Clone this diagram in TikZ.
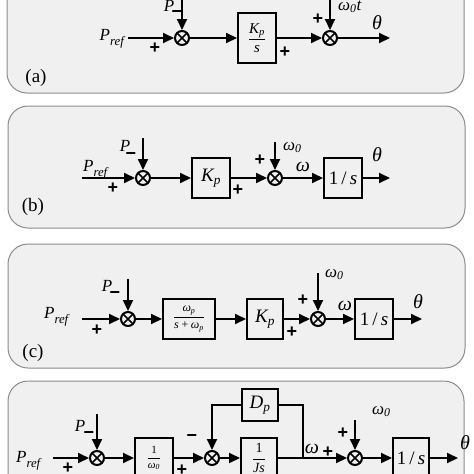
\documentclass[tikz,border=0pt]{standalone}
\usepackage{fontspec}
\setmainfont{Liberation Serif}
\newfontfamily\signfont{Liberation Sans}
\usetikzlibrary{arrows.meta}
\newcommand{\sbs}[1]{\raisebox{-0.3em}{\scalebox{0.75}{#1}}}
\begin{document}
\begin{tikzpicture}[x=1pt,y=-1pt,
  panel/.style={draw=black!45, fill=black!6, line width=1pt, rounded corners=20pt},
  sig/.style={line width=2pt, -{Triangle[length=11pt,width=10pt]}},
  ln/.style={line width=2pt},
  blk/.style={draw, line width=2pt, minimum width=38pt, minimum height=40pt, inner sep=0pt, font=\fontsize{19}{19}\selectfont},
  sumn/.style={circle, draw, line width=2pt, minimum size=14pt, inner sep=0pt,
    path picture={\draw[line width=1.6pt] (path picture bounding box.north west) -- (path picture bounding box.south east) (path picture bounding box.north east) -- (path picture bounding box.south west);}},
  lbl/.style={font=\fontsize{17}{17}\selectfont\itshape, inner sep=0pt},
  big/.style={font=\fontsize{20}{20}\selectfont\itshape, inner sep=0pt},
  sgn/.style={font=\signfont\bfseries\fontsize{18}{18}\selectfont, inner sep=0pt},
  tag/.style={font=\fontsize{19}{19}\selectfont, inner sep=0pt}
]
\useasboundingbox (0,0) rectangle (474,474);
\clip (0,0) rectangle (474,474);
\fill[white] (0,0) rectangle (474,474);

% ---------- panel (a)
\draw[panel] (7,-40) rectangle (464,93);
\coordinate (a0) at (128,38);
\node[sumn] (as1) at (182,38) {};
\coordinate (a1) at (182,-2);
\node[blk, minimum height=50pt, font=\fontsize{15}{15}\selectfont] (ak) at (257,38) {$\displaystyle\frac{\mbox{\itshape K\textsubscript{p}}}{\mbox{\itshape s}}$};
\node[sumn] (as2) at (330,38) {};
\coordinate (a2) at (330,-2);
\coordinate (aout) at (390,38);
\draw[sig] (a0) -- (as1);
\draw[sig] (a1) -- (as1);
\draw[sig] (as1) -- (ak);
\draw[sig] (ak) -- (as2);
\draw[sig] (a2) -- (as2);
\draw[sig] (as2) -- (aout);
\node[lbl, anchor=base east] (apref) at (124,40) {P\sbs{ref}};
\node[lbl, anchor=base] (ap) at (169,11) {P};
\node[sgn] (am) at (177,14) {−};
\node[sgn] (ap1) at (155,48) {+};
\node[sgn] (ap2) at (285,52) {+};
\node[sgn] (ap3) at (318,19) {+};
\node[lbl, anchor=base west] (aw) at (338,10) {ω\textsubscript{0}t};
\node[big] (ath) at (377,23) {θ};
\node[tag] (atag) at (36,78) {(a)};

% ---------- panel (b)
\draw[panel] (8,106) rectangle (465,228);
\coordinate (b0) at (82,178);
\node[sumn] (bs1) at (143,178) {};
\coordinate (b1) at (143,138);
\node[blk] (bk) at (211,178) {\itshape K\textsubscript{p}};
\node[sumn] (bs2) at (275,178) {};
\coordinate (b2) at (275,142);
\node[blk] (bi) at (343,178) {1\,/\,\itshape s};
\coordinate (bout) at (390,178);
\draw[sig] (b0) -- (bs1);
\draw[sig] (b1) -- (bs1);
\draw[sig] (bs1) -- (bk);
\draw[sig] (bk) -- (bs2);
\draw[sig] (b2) -- (bs2);
\draw[sig] (bs2) -- (bi);
\draw[sig] (bi) -- (bout);
\node[lbl, anchor=base west] (bpref) at (83,171) {P\sbs{ref}};
\node[lbl, anchor=base] (bp) at (125,151) {P};
\node[sgn] (bm) at (131,156) {−};
\node[sgn] (bp1) at (113,188) {+};
\node[sgn] (bp2) at (238,190) {+};
\node[sgn] (bp3) at (260,160) {+};
\node[lbl, anchor=base west] (bw0) at (283,150) {ω\textsubscript{0}};
\node[big] (bw) at (303,167) {ω};
\node[big] (bth) at (377,155) {θ};
\node[tag] (btag) at (33,207) {(b)};

% ---------- panel (c)
\draw[panel] (8,244) rectangle (465,368);
\coordinate (c0) at (82,319);
\node[sumn] (cs1) at (128,319) {};
\coordinate (c1) at (128,279);
\node[blk, minimum width=52pt, font=\fontsize{12}{12}\selectfont] (cf) at (189,319) {$\displaystyle\frac{\mbox{\itshape ω\textsubscript{p}}}{\mbox{\itshape s\,+\,ω\textsubscript{p}}}$};
\node[blk, minimum width=36pt] (ck) at (265,319) {\itshape K\textsubscript{p}};
\node[sumn] (cs2) at (318,319) {};
\coordinate (c2) at (318,273);
\node[blk] (ci) at (374,319) {1\,/\,\itshape s};
\coordinate (cout) at (422,319);
\draw[sig] (c0) -- (cs1);
\draw[sig] (c1) -- (cs1);
\draw[sig] (cs1) -- (cf);
\draw[sig] (cf) -- (ck);
\draw[sig] (ck) -- (cs2);
\draw[sig] (c2) -- (cs2);
\draw[sig] (cs2) -- (ci);
\draw[sig] (ci) -- (cout);
\node[lbl, anchor=base west] (cpref) at (44,318) {P\sbs{ref}};
\node[lbl, anchor=base] (cp) at (107,291) {P};
\node[sgn] (cm) at (115,295) {−};
\node[sgn] (cp1) at (97,330) {+};
\node[sgn] (cp2) at (292,332) {+};
\node[sgn] (cp3) at (303,300) {+};
\node[lbl, anchor=base west] (cw0) at (325,277) {ω\textsubscript{0}};
\node[big] (cw) at (345,306) {ω};
\node[big] (cth) at (418,302) {θ};
\node[tag] (ctag) at (33,353) {(c)};

% ---------- panel (d)
\draw[panel] (8,381) rectangle (464,530);
\coordinate (d0) at (53,458);
\node[sumn] (ds1) at (97,458) {};
\coordinate (d1) at (97,414);
\node[blk, font=\fontsize{11}{11}\selectfont] (dw) at (154,458) {$\displaystyle\frac{\mbox{1}}{\mbox{\itshape ω\textsubscript{0}}}$};
\node[sumn] (ds2) at (212,458) {};
\node[blk, minimum width=36pt, minimum height=32pt] (dd) at (260,405) {\itshape D\textsubscript{p}};
\node[blk, minimum width=36pt, font=\fontsize{14}{14}\selectfont] (dj) at (259,458) {$\displaystyle\frac{\mbox{1}}{\mbox{\itshape Js}}$};
\coordinate (dbr) at (303,458);
\node[sumn] (ds3) at (355,458) {};
\coordinate (d3) at (355,420);
\node[blk, minimum width=36pt] (di) at (411,458) {1\,/\,\itshape s};
\coordinate (dout) at (458,458);
\draw[sig] (d0) -- (ds1);
\draw[sig] (d1) -- (ds1);
\draw[sig] (ds1) -- (dw);
\draw[sig] (dw) -- (ds2);
\draw[sig] (ds2) -- (dj);
\draw[sig] (dj) -- (ds3);
\draw[ln] (dbr) |- (dd.east);
\draw[sig] (dd.west) -| (ds2);
\draw[sig] (d3) -- (ds3);
\draw[sig] (ds3) -- (di);
\draw[sig] (di) -- (dout);
\node[lbl, anchor=base west] (dpref) at (16,462) {P\sbs{ref}};
\node[lbl, anchor=base] (dp) at (80,431) {P};
\node[sgn] (dm) at (89,435) {−};
\node[sgn] (dp1) at (68,468) {+};
\node[sgn] (dp2) at (182,470) {+};
\node[sgn] (dm2) at (192,438) {−};
\node[big] (dwl) at (312,449) {ω};
\node[sgn] (dp3) at (328,452) {+};
\node[sgn] (dp4) at (343,433) {+};
\node[lbl, anchor=base west] (dw0) at (372,414) {ω\textsubscript{0}};
\node[big] (dth) at (465,443) {θ};
\end{tikzpicture}
\end{document}
